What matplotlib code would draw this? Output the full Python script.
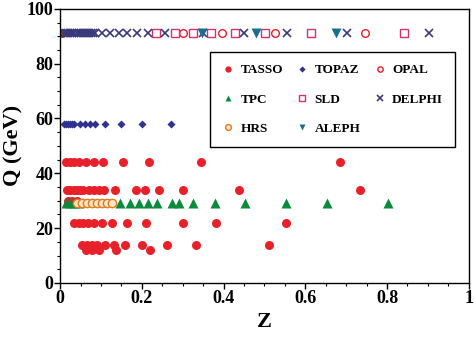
import matplotlib
matplotlib.use("Agg")
import matplotlib.pyplot as plt
import numpy as np

plt.rcParams["font.family"] = ["Liberation Serif", "DejaVu Serif"]
plt.rcParams["font.weight"] = "bold"

# TASSO (z, Q)
tasso_z = [0.004,
           0.015, 0.025, 0.035, 0.045, 0.063, 0.083, 0.104, 0.153, 0.218, 0.345, 0.685,
           0.016, 0.025, 0.033, 0.041, 0.049, 0.057, 0.070, 0.082, 0.094, 0.107, 0.135, 0.186,
           0.208, 0.243, 0.300, 0.438, 0.733,
           0.020, 0.030, 0.040,
           0.033, 0.045, 0.057, 0.069, 0.083, 0.102, 0.128, 0.163, 0.210, 0.300, 0.382, 0.552,
           0.053, 0.065, 0.078, 0.090, 0.110, 0.131, 0.159, 0.200, 0.261, 0.332, 0.511,
           0.063, 0.078, 0.094, 0.136, 0.219]
tasso_q = [91.2] + [44] * 11 + [34] * 17 + [30] * 3 + [22] * 12 + [14] * 11 + [12] * 5

# TOPAZ at 58 GeV
topaz_z = [0.010, 0.015, 0.020, 0.025, 0.030, 0.035, 0.049, 0.061, 0.074, 0.086, 0.110, 0.150, 0.200, 0.270]
topaz_q = [58] * len(topaz_z)

# TPC at 29 GeV
tpc_z = [0.015, 0.025, 0.035, 0.045, 0.147, 0.170, 0.192, 0.216, 0.237, 0.274, 0.290,
         0.326, 0.378, 0.452, 0.552, 0.653, 0.803]
tpc_q = [29] * len(tpc_z)

# HRS at 29 GeV
hrs_z = [0.041, 0.053, 0.065, 0.078, 0.090, 0.102, 0.114, 0.127]
hrs_q = [29] * len(hrs_z)

# LEP / SLC at 91.2 GeV
opal_z = [0.300, 0.396, 0.525, 0.746]
opal_q = [91.2] * len(opal_z)
sld_z = [0.235, 0.280, 0.325, 0.368, 0.429, 0.502, 0.613, 0.841]
sld_q = [91.2] * len(sld_z)
delphi_z = [0.010, 0.015, 0.020, 0.025, 0.030, 0.035, 0.040, 0.045, 0.050, 0.055, 0.060,
            0.065, 0.070, 0.075, 0.080, 0.086, 0.102, 0.123, 0.143, 0.163, 0.188, 0.216,
            0.257, 0.350, 0.449, 0.554, 0.703, 0.903]
delphi_q = [91.2] * len(delphi_z)
aleph_z = [0.347, 0.478, 0.674]
aleph_q = [91.2] * len(aleph_z)

fig = plt.figure(figsize=(4.74, 3.55), dpi=100)
ax = fig.add_axes([0.127, 0.203, 0.862, 0.772])

h = {}
h["TASSO"], = ax.plot(tasso_z, tasso_q, "o", color="#e8202a", ms=6.5, mec="none")
h["TOPAZ"], = ax.plot(topaz_z, topaz_q, "D", color="#2e3192", ms=4.5, mec="none")
h["OPAL"], = ax.plot(opal_z, opal_q, "o", mfc="none", mec="#e0202a", ms=5.5, mew=1.0)
h["TPC"], = ax.plot(tpc_z, tpc_q, "^", color="#0a8a3c", ms=7, mec="none")
h["SLD"], = ax.plot(sld_z, sld_q, "s", mfc="none", mec="#d6306e", ms=5.5, mew=1.0)
h["DELPHI"], = ax.plot(delphi_z, delphi_q, "x", color="#3a3a7a", ms=5.5, mew=1.2)
h["HRS"], = ax.plot(hrs_z, hrs_q, "o", mfc="#fbe6c4", mec="#e07a20", ms=6, mew=1.0)
h["ALEPH"], = ax.plot(aleph_z, aleph_q, "v", color="#1a6f8f", ms=6.5, mec="none")

ax.set_xlim(0, 1)
ax.set_ylim(0, 100)
ax.set_xticks(np.arange(0, 1.01, 0.2))
ax.set_xticklabels(["0", "0.2", "0.4", "0.6", "0.8", "1"])
ax.set_yticks(np.arange(0, 101, 20))
ax.set_xticks(np.arange(0, 1.001, 0.05), minor=True)
ax.set_yticks(np.arange(0, 101, 5), minor=True)
ax.tick_params(which="major", direction="out", length=4, width=1, labelsize=13, pad=1)
ax.tick_params(which="minor", direction="out", length=2, width=0.8)
for lab in ax.get_xticklabels() + ax.get_yticklabels():
    lab.set_fontweight("bold")
for s in ax.spines.values():
    s.set_linewidth(1.0)

ax.set_xlabel("Z", fontsize=16, fontweight="bold", labelpad=4)
ax.set_ylabel("Q (GeV)", fontsize=16, fontweight="bold", labelpad=2)

# column-major fill so the rows read TASSO/TOPAZ/OPAL, TPC/SLD/DELPHI, HRS/ALEPH
order = ["TASSO", "TPC", "HRS", "TOPAZ", "SLD", "ALEPH", "OPAL", "DELPHI"]
leg = ax.legend([h[k] for k in order], order, loc="upper right", bbox_to_anchor=(0.966, 0.842),
                borderaxespad=0, ncol=3, frameon=True, fancybox=False, framealpha=1,
                edgecolor="black", markerscale=0.7, handlelength=0.9, handletextpad=0.5,
                columnspacing=1.0, labelspacing=1.3, borderpad=0.9,
                prop={"weight": "bold", "size": 9.5})
leg.get_frame().set_linewidth(1.0)

fig.savefig("out.png", dpi=100)
